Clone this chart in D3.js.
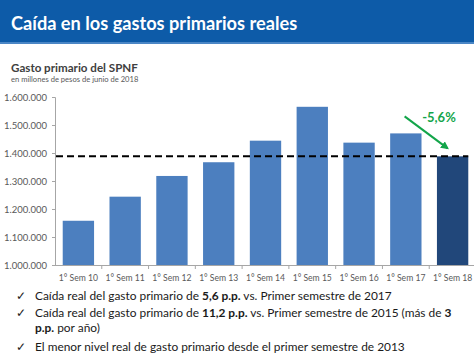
<!DOCTYPE html>
<html><head><meta charset="utf-8">
<script src="https://cdn.jsdelivr.net/npm/d3@7"></script>
<style>body{margin:0;background:#fff}svg{display:block}</style>
</head><body>
<script>
const categories = ["1° Sem 10","1° Sem 11","1° Sem 12","1° Sem 13","1° Sem 14","1° Sem 15","1° Sem 16","1° Sem 17","1° Sem 18"];
const values = [1158000,1244000,1318000,1367000,1444000,1565000,1437000,1470000,1388000];
const yTicks = [1000000,1100000,1200000,1300000,1400000,1500000,1600000];
const changeLabel = "-5,6%";
const title = "Caída en los gastos primarios reales";
const chartTitle = "Gasto primario del SPNF";
const chartSubtitle = "en millones de pesos de junio de 2018";
const bullets = [
  [["Caída real del gasto primario de ",0],["5,6 p.p.",1],[" vs. Primer semestre de 2017",0]],
  [["Caída real del gasto primario de ",0],["11,2 p.p.",1],[" vs. Primer semestre de 2015 (más de ",0],["3",1]],
  [["p.p.",1],[" por año)",0]],
  [["El menor nivel real de gasto primario desde el primer semestre de 2013",0]]
];
const bulletCheck = [true,true,false,true];

const W=474,H=355;
const font = "Lato, 'Open Sans', sans-serif";
const svg = d3.select("body").append("svg").attr("width",W).attr("height",H).style("font-family",font);

svg.append("rect").attr("x",0).attr("y",0).attr("width",W).attr("height",43).attr("fill","#0D5BA8");
svg.append("rect").attr("x",0).attr("y",42).attr("width",W).attr("height",2).attr("fill","#4A86C5");
svg.append("text").attr("x",11).attr("y",30).attr("fill","#fff").attr("font-weight","bold").attr("font-size",18.2).text(title);

svg.append("text").attr("x",11).attr("y",72).attr("fill","#404040").attr("font-weight","bold").attr("font-size",11.6).text(chartTitle);
svg.append("text").attr("x",11).attr("y",82).attr("fill","#595959").attr("font-size",7.6).text(chartSubtitle);

const x = d3.scaleBand().domain(categories).range([55,476]).paddingInner(0.33).paddingOuter(0.165);
const y = d3.scaleLinear().domain([1000000,1600000]).range([265,97]);

const fmt = d => d3.format(",")(d).replace(/,/g,".");

const yAxis = svg.append("g").attr("transform","translate(55,0)")
  .call(d3.axisLeft(y).tickValues(yTicks).tickFormat(fmt).tickSize(3).tickPadding(5));
yAxis.select(".domain").attr("stroke","#A6A6A6");
yAxis.selectAll(".tick line").attr("stroke","#A6A6A6");
yAxis.selectAll("text").attr("fill","#595959").attr("font-size",9.5).style("font-family",font);

// bars
svg.append("g").selectAll("rect").data(values).join("rect")
  .attr("x",(d,i)=>x(categories[i]))
  .attr("width",x.bandwidth())
  .attr("y",d=>y(d))
  .attr("height",d=>y(1000000)-y(d))
  .attr("fill",(d,i)=>i===values.length-1?"#21477A":"#4C7FBF");

// x axis
const xg = svg.append("g");
xg.append("line").attr("x1",55).attr("x2",W).attr("y1",y(1000000)+0.5).attr("y2",y(1000000)+0.5).attr("stroke","#A6A6A6");
const step = x.step(), pad = step*x.paddingInner()/2;
xg.selectAll("line.t").data(categories).join("line").attr("class","t")
  .attr("x1",d=>x(d)+x.bandwidth()+pad).attr("x2",d=>x(d)+x.bandwidth()+pad)
  .attr("y1",y(1000000)).attr("y2",y(1000000)+4).attr("stroke","#A6A6A6");
xg.selectAll("text").data(categories).join("text")
  .attr("x",d=>x(d)+x.bandwidth()/2).attr("y",281).attr("text-anchor","middle")
  .attr("fill","#595959").attr("font-size",8.6).text(d=>d);

// dashed reference line
const last = values[values.length-1];
svg.append("line").attr("x1",56).attr("x2",x(categories[8])+x.bandwidth()).attr("y1",y(last)).attr("y2",y(last))
  .attr("stroke","#000").attr("stroke-width",2).attr("stroke-dasharray","7,4");

// arrow
const defs = svg.append("defs");
defs.append("marker").attr("id","ah").attr("viewBox","0 0 10 10").attr("refX",8).attr("refY",5)
  .attr("markerWidth",4).attr("markerHeight",4).attr("orient","auto")
  .append("path").attr("d","M0,0L10,5L0,10z").attr("fill","#13A54A");
const ax2 = x(categories[8])+x.bandwidth()/2 - 5;
svg.append("line").attr("x1",ax2-43).attr("y1",y(values[7])-17).attr("x2",ax2).attr("y2",y(last)-8)
  .attr("stroke","#13A54A").attr("stroke-width",2).attr("marker-end","url(#ah)");
svg.append("text").attr("x",439).attr("y",122).attr("text-anchor","middle").attr("fill","#13A54A")
  .attr("font-weight","bold").attr("font-size",13).text(changeLabel);

// bullets
const bY=[300,317,332,351];
bullets.forEach((segs,i)=>{
  if(bulletCheck[i]) svg.append("text").attr("x",16).attr("y",bY[i]).attr("font-size",12).attr("fill","#222").text("✓");
  const t = svg.append("text").attr("x",35).attr("y",bY[i]).attr("font-size",11.9).attr("fill","#1a1a1a");
  segs.forEach(s=>t.append("tspan").attr("font-weight",s[1]?"bold":"normal").text(s[0]));
});
</script>
</body></html>
